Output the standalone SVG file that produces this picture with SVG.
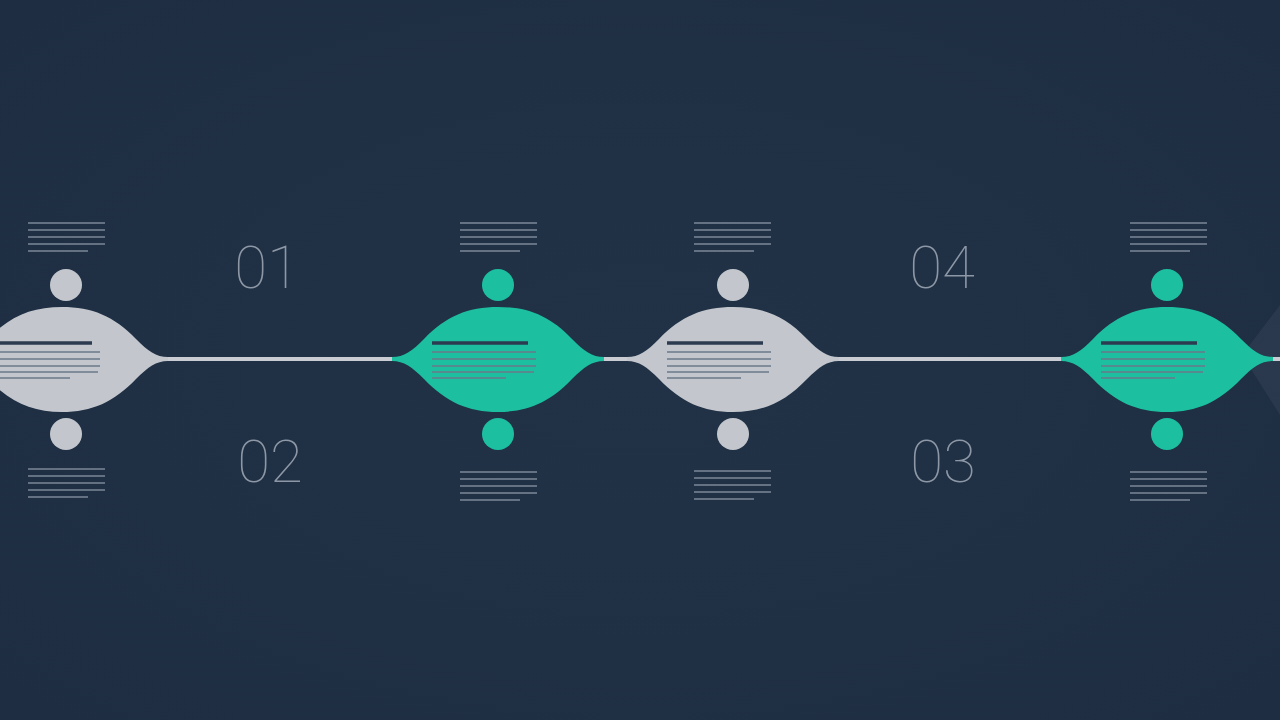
<svg xmlns="http://www.w3.org/2000/svg" width="1280" height="720" viewBox="0 0 1280 720">
<defs>
<style>
.gray{fill:#c3c7cd}
.teal{fill:#1cc0a0}
.conn{stroke:#c9cdd3;stroke-width:4;fill:none}
.txt line{stroke:#7d8898;stroke-width:1.6}
.in line{stroke:#6a7888;stroke-width:1.3}
.inT{stroke:#2c3b50;stroke-width:3.5}
.num{font-family:Roboto,'Open Sans','Liberation Sans',sans-serif;font-weight:100;font-size:60px;fill:#8d97a5;text-anchor:middle}
</style>
<path id="lens" d="M-106,357 C-94,357 -86,351 -74,339 C-52,316 -30,307 0,307 C30,307 52,316 74,339 C86,351 94,357 106,357 L106,361 C94,361 86,367 74,379 C52,402 30,412 0,412 C-30,412 -52,402 -74,379 C-86,367 -94,361 -106,361 Z"/>
<g id="block" class="txt">
<line x1="0" y1="0" x2="77" y2="0"/>
<line x1="0" y1="7" x2="77" y2="7"/>
<line x1="0" y1="14" x2="77" y2="14"/>
<line x1="0" y1="21" x2="77" y2="21"/>
<line x1="0" y1="28" x2="60" y2="28"/>
</g>
<g id="inner">
<line class="inT" x1="-66" y1="343" x2="30" y2="343"/>
<g class="in">
<line x1="-66" y1="352" x2="38" y2="352"/>
<line x1="-66" y1="359" x2="38" y2="359"/>
<line x1="-66" y1="366" x2="38" y2="366"/>
<line x1="-66" y1="372" x2="36" y2="372"/>
<line x1="-66" y1="378" x2="8" y2="378"/>
</g>
</g>
<radialGradient id="bg" cx="0.5" cy="0.5" r="0.7">
<stop offset="0" stop-color="#213247"/>
<stop offset="1" stop-color="#1e2d42"/>
</radialGradient>
</defs>
<rect width="1280" height="720" fill="url(#bg)"/>
<polygon points="1280,305 1242,355 1280,415" fill="#c9cdd3" opacity="0.07"/>
<g id="connectors">
<line class="conn" x1="160" y1="359" x2="400" y2="359"/>
<line class="conn" x1="596" y1="359" x2="645" y2="359"/>
<line class="conn" x1="825" y1="359" x2="1070" y2="359"/>
<line class="conn" x1="1265" y1="359" x2="1280" y2="359"/>
</g>
<g id="node1">
<use href="#lens" x="62" class="gray"/>
<use href="#inner" x="62"/>
<circle cx="66" cy="285" r="16" class="gray"/>
<circle cx="66" cy="434" r="16" class="gray"/>
<use href="#block" x="28" y="223"/>
<use href="#block" x="28" y="469"/>
</g>
<g id="node2">
<use href="#lens" x="498" class="teal"/>
<use href="#inner" x="498"/>
<circle cx="498" cy="285" r="16" class="teal"/>
<circle cx="498" cy="434" r="16" class="teal"/>
<use href="#block" x="460" y="223"/>
<use href="#block" x="460" y="472"/>
</g>
<g id="node3">
<use href="#lens" x="733" class="gray"/>
<use href="#inner" x="733"/>
<circle cx="733" cy="285" r="16" class="gray"/>
<circle cx="733" cy="434" r="16" class="gray"/>
<use href="#block" x="694" y="223"/>
<use href="#block" x="694" y="471"/>
</g>
<g id="node4">
<use href="#lens" x="1167" class="teal"/>
<use href="#inner" x="1167"/>
<circle cx="1167" cy="285" r="16" class="teal"/>
<circle cx="1167" cy="434" r="16" class="teal"/>
<use href="#block" x="1130" y="223"/>
<use href="#block" x="1130" y="472"/>
</g>
<g id="labels">
<text class="num" x="267" y="288">01</text>
<text class="num" x="270" y="482">02</text>
<text class="num" x="942" y="288">04</text>
<text class="num" x="943" y="482">03</text>
</g>
</svg>
